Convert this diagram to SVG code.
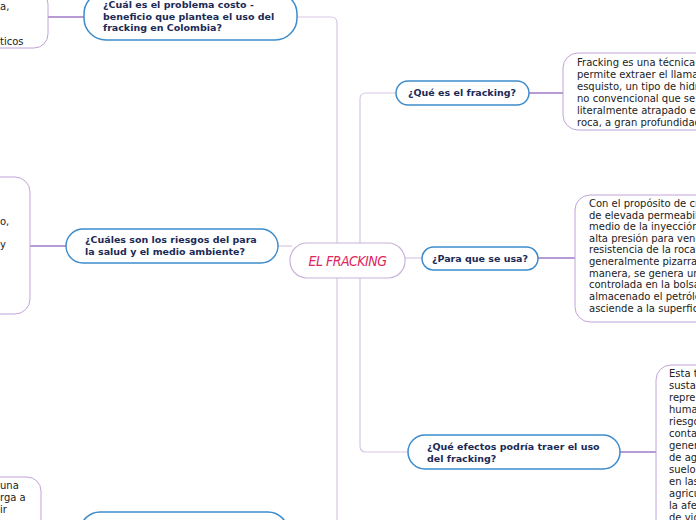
<svg xmlns="http://www.w3.org/2000/svg" width="696" height="520" viewBox="0 0 696 520">
<style>
.q{fill:#fff;stroke:#3d8ccb;stroke-width:1.5}
.qt{font-family:"DejaVu Sans",sans-serif;font-weight:bold;font-size:9.5px;fill:#1b2a56}
.leaf{fill:#fff;stroke:#c0a3d8;stroke-width:1}
.lt{font-family:"DejaVu Sans",sans-serif;font-size:10px;fill:#222}
.c{fill:none;stroke:#d7c6e6;stroke-width:1.2}
.ct{fill:none;stroke:#b89ad4;stroke-width:2}
</style>
<rect width="696" height="520" fill="#fff"/>
<g id="connectors">
<path class="c" d="M297 17 H331 Q337 17 337 23 V520"/>
<path class="c" d="M278 246 H292"/>
<path class="c" d="M396 93 H366 Q360 93 360 99 V446 Q360 452 366 452 H408"/>
<path class="c" d="M405 258 H422"/>
<path class="ct" d="M529 93 H563"/>
<path class="ct" d="M538 258 H575"/>
<path class="ct" d="M620 452 H656"/>
<path class="ct" d="M48 17 H84"/>
<path class="ct" d="M30 246 H66"/>
</g>
<g id="center"><rect x="290" y="243" width="115" height="35" rx="17" fill="#fff" stroke="#c9b3d9" stroke-width="1.2"/><text x="347.5" y="266" text-anchor="middle" font-family="DejaVu Sans Condensed,sans-serif" font-style="italic" font-size="14" fill="#e0245e" letter-spacing="-0.5">EL FRACKING</text></g>
<g id="n-costo"><rect class="q" x="84" y="-8" width="213" height="48" rx="22"/><text class="qt"><tspan x="103" y="8">¿Cuál es el problema costo -</tspan><tspan x="103" y="20">beneficio que plantea el uso del</tspan><tspan x="103" y="31">fracking  en Colombia?</tspan></text></g>
<g id="n-riesgos"><rect class="q" x="66" y="229" width="212" height="34" rx="17"/><text class="qt"><tspan x="85" y="243">¿Cuáles son los riesgos del  para</tspan><tspan x="85" y="255">la salud y el medio ambiente?</tspan></text></g>
<g id="n-que"><rect class="q" x="396" y="81" width="133" height="24" rx="12"/><text class="qt" x="462" y="96" text-anchor="middle">¿Qué es el fracking?</text></g>
<g id="n-para"><rect class="q" x="422" y="247" width="116" height="23" rx="11.5"/><text class="qt" x="480" y="262" text-anchor="middle">¿Para que se usa?</text></g>
<g id="n-efectos"><rect class="q" x="408" y="435" width="212" height="34" rx="17"/><text class="qt"><tspan x="427" y="450">¿Qué efectos podría traer el uso</tspan><tspan x="427" y="462">del fracking?</tspan></text></g>
<g id="n-bottom"><rect class="q" x="80" y="512" width="208" height="40" rx="20"/></g>
<g id="l-que"><rect class="leaf" x="563" y="53" width="150" height="77" rx="15"/><text class="lt"><tspan x="577" y="66">Fracking es una técnica</tspan><tspan x="577" y="78">permite extraer el llama</tspan><tspan x="577" y="90">esquisto, un tipo de hidr</tspan><tspan x="577" y="102">no convencional que se</tspan><tspan x="577" y="114">literalmente atrapado en</tspan><tspan x="577" y="126">roca, a gran profundidad</tspan></text></g>
<g id="l-para"><rect class="leaf" x="575" y="195" width="140" height="127" rx="15"/><text class="lt"><tspan x="589" y="207">Con el propósito de cr</tspan><tspan x="589" y="219">de elevada permeabili</tspan><tspan x="589" y="230">medio de la inyección</tspan><tspan x="589" y="242">alta presión para vend</tspan><tspan x="589" y="253">resistencia de la roca,</tspan><tspan x="589" y="265">generalmente pizarra</tspan><tspan x="589" y="277">manera, se genera un</tspan><tspan x="589" y="288">controlada en la bolsa</tspan><tspan x="589" y="300">almacenado el petróle</tspan><tspan x="589" y="312">asciende a la superfic</tspan></text></g>
<g id="l-efectos"><rect class="leaf" x="656" y="365" width="60" height="170" rx="15"/><text class="lt"><tspan x="669" y="377">Esta t</tspan><tspan x="669" y="389">susta</tspan><tspan x="669" y="401">repre</tspan><tspan x="669" y="413">huma</tspan><tspan x="669" y="425">riesgo</tspan><tspan x="669" y="437">conta</tspan><tspan x="669" y="449">gener</tspan><tspan x="669" y="461">de ag</tspan><tspan x="669" y="473">suelo</tspan><tspan x="669" y="485">en las</tspan><tspan x="669" y="497">agricu</tspan><tspan x="669" y="509">la afe</tspan><tspan x="669" y="521">de vid</tspan></text></g>
<g id="l-costo"><rect class="leaf" x="-20" y="-10" width="68" height="58" rx="14"/><text class="lt"><tspan x="0" y="10">a,</tspan><tspan x="0" y="45">ticos</tspan></text></g>
<g id="l-riesgos"><rect class="leaf" x="-20" y="177" width="50" height="137" rx="15"/><text class="lt"><tspan x="0" y="225">o,</tspan><tspan x="0" y="248">y</tspan></text></g>
<g id="l-bottom"><rect class="leaf" x="-20" y="477" width="61" height="60" rx="14"/><text class="lt"><tspan x="0" y="489">una</tspan><tspan x="0" y="501">rga a</tspan><tspan x="0" y="513">ir</tspan></text></g>
</svg>
